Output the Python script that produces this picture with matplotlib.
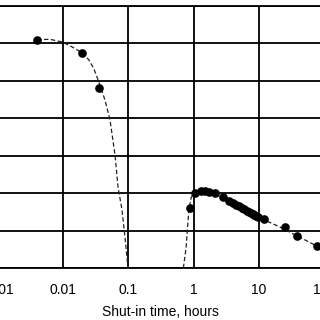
import numpy as np
import matplotlib
matplotlib.use("Agg")
import matplotlib.pyplot as plt

# Measured points: early (wellbore) period
t_early = [0.0041, 0.0199, 0.0361]
p_early = [6.10, 5.75, 4.81]

# Measured points: after shut-in recovery
t_late = [0.885, 1.05, 1.30, 1.50, 1.72, 2.13, 2.82,
          3.5, 4.0, 4.5, 5.0, 5.5, 6.0, 6.5, 7.0, 7.5, 8.0, 8.5, 9.0, 9.5,
          11.9, 24.9, 38.0, 76.8]
p_late = [1.60, 2.01, 2.06, 2.06, 2.03, 2.01, 1.90,
          1.80, 1.75, 1.69, 1.65, 1.61, 1.57, 1.53, 1.50, 1.47, 1.44, 1.42, 1.39, 1.37,
          1.31, 1.10, 0.86, 0.59]

# Dashed fitted curves
t_fit1 = [0.0041, 0.00644, 0.00983, 0.01395, 0.01986, 0.0250, 0.0300, 0.0348,
          0.0445, 0.0531, 0.0634, 0.0703, 0.0810, 0.0899, 0.1]
p_fit1 = [6.10, 6.11, 6.04, 5.91, 5.75, 5.57, 5.33, 5.03,
          4.49, 3.96, 3.02, 2.17, 1.55, 0.83, 0.0]
t_fit2 = [0.70, 0.77, 0.81, 0.85, 0.92, 1.02, 1.26, 1.55, 2.13, 3.03,
          6.0, 9.66, 20, 40, 100]
p_fit2 = [0.0, 0.53, 1.07, 1.55, 1.87, 2.03, 2.09, 2.06, 1.98, 1.84,
          1.57, 1.36, 1.11, 0.84, 0.48]

xticks = [0.001, 0.01, 0.1, 1, 10, 100]
xticklabels = ["0.001", "0.01", "0.1", "1", "10", "100"]

plt.rcParams["font.family"] = ["Liberation Sans", "DejaVu Sans"]

fig = plt.figure(figsize=(3.2, 3.2), dpi=100)
# axes run past the left edge, like the cropped original
ax = fig.add_axes([-3 / 320, 52 / 320, 327.5 / 320, 262 / 320])

ax.plot(t_fit1, p_fit1, "--", color="#222222", lw=0.9, dashes=(3.5, 2))
ax.plot(t_fit2, p_fit2, "--", color="#222222", lw=0.9, dashes=(3.5, 2))
ax.plot(t_early, p_early, "o", color="black", ms=5.2)
ax.plot(t_late, p_late, "o", color="black", ms=5.2)

ax.set_xscale("log")
ax.set_xlim(0.001, 100)
ax.set_ylim(0, 7)
ax.set_xticks(xticks)
ax.set_xticklabels(xticklabels)
ax.minorticks_off()
ax.set_yticks(range(0, 8))
ax.set_yticklabels([])
ax.grid(True, color="black", lw=1.3)
for s in ax.spines.values():
    s.set_linewidth(1.3)
ax.tick_params(length=0, labelsize=10, pad=10.5)
ax.set_xlabel("Shut-in time, hours", fontsize=10, labelpad=6)

fig.savefig("out.png", dpi=100)
